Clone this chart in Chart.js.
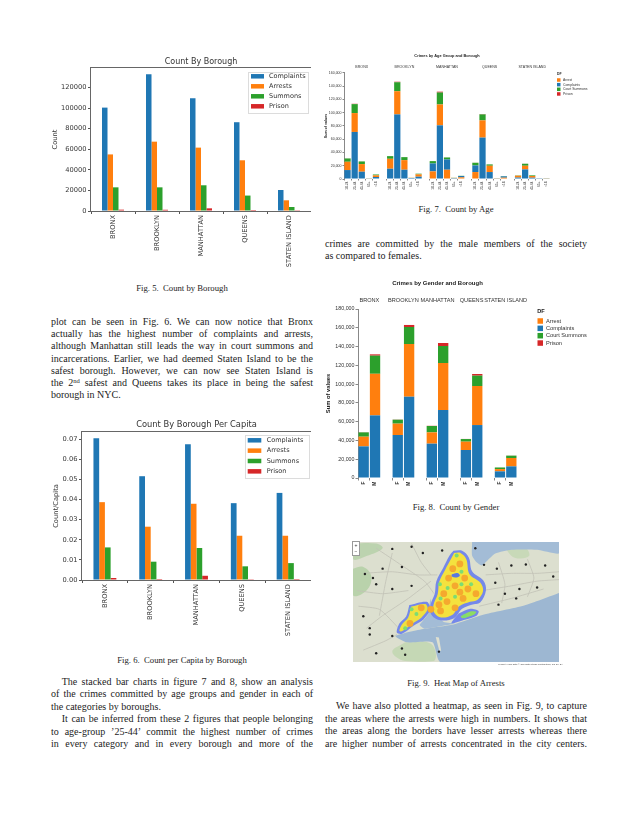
<!DOCTYPE html>
<html><head><meta charset="utf-8">
<script src="https://cdn.jsdelivr.net/npm/chart.js@4"></script>
<style>
html,body{margin:0;padding:0;background:#fff}
#page{position:relative;width:638px;height:826px;overflow:hidden;background:#fff;filter:blur(.35px)}
canvas{position:absolute;display:block}
.t{position:absolute;white-space:nowrap;font-family:"Liberation Serif",serif;color:#1c1c1c;line-height:12px;height:12px}
.j{text-align:justify;text-align-last:justify}
.c{text-align:center}
sup{font-size:6.5px;line-height:0;vertical-align:3.5px}
#c9{filter:blur(.55px)}
</style></head><body><div id="page"></div>
<script>
// ---------- Data ----------
const boroughs = ['BRONX','BROOKLYN','MANHATTAN','QUEENS','STATEN ISLAND'];
const seriesCount = ['Complaints','Arrests','Summons','Prison'];
const countTicks = [0,20000,40000,60000,80000,100000,120000];
const countComplaints = [100500,133000,109600,86300,20400];
const countArrests    = [55000,67400,61600,49300,10400];
const countSummons    = [23000,23000,25000,15000,3900];
const countPrison     = [1300,1200,2600,1000,200];
const capitaTicks = [0,.01,.02,.03,.04,.05,.06,.07];
const capitaComplaints = [.0705,.0516,.0675,.0382,.0433];
const capitaArrests    = [.0387,.0265,.0379,.0220,.0220];
const capitaSummons    = [.0162,.0091,.0159,.0068,.0084];
const capitaPrison     = [.0010,.0005,.0021,.0004,.0005];

const seriesDF = ['Arrest','Complaints','Court Summons','Prison'];
const ageGroups = ['18-24','25-44','45-64','65+','<18',''];
// age chart: per facet 5 bars + one empty slot. Arrest sometimes sits under Complaints.
const ageArrestBelow = [0,0,0,0,0,null, 0,0,0,0,0,null, 11500,0,14000,0,2500,null, 10500,0,0,0,2000,null, 0,0,0,0,0];
const ageComplaints  = [13500,71000,11000,1000,3000,null, 15500,97500,14000,1500,3500,null, 12000,81000,15500,1300,2000,null, 10000,62500,10500,1000,2000,null, 2200,14500,2000,300,500];
const ageArrestAbove = [12500,28500,11500,200,2500,null, 15000,35000,14500,300,3500,null, 0,31500,0,400,0,null, 0,26000,9500,300,0,null, 2800,5500,2500,100,300];
const ageSummons     = [5000,13500,4000,100,1300,null, 4000,13500,4500,100,1000,null, 3500,18000,3000,200,300,null, 4000,9000,2000,100,500,null, 500,3000,1000,0,100];
const agePrison      = [100,500,100,0,50,null, 100,800,100,0,50,null, 100,1300,100,0,0,null, 100,500,100,0,0,null, 0,100,0,0,0];

const genders = ['F','M',''];
const genderComplaints = [33700,66700,null, 45800,86600,null, 36600,72400,null, 29800,56400,null, 7100,12400];
const genderArrest     = [10300,44300,null, 12100,56100,null, 12000,50100,null, 8900,41600,null, 2400,8900];
const genderSummons    = [4600,19300,null, 4200,18100,null, 6800,18100,null, 2800,11000,null, 1700,2500];
const genderPrison     = [200,1400,null, 200,2200,null, 200,3200,null, 100,1800,null, 50,100];

// heat map (picture coordinates of the map image, x 28-668, y 25-408)
const mapLand = [[28,25],[668,25],[668,408],[28,408],[28,25]];
const mapSound = [[398,25],[668,25],[668,62],[600,50],[520,50],[470,62],[445,85],[428,100],[412,90],[398,68],[398,25]];
const mapHarbor = [[268,205],[280,255],[310,280],[345,285],[250,302],[235,290],[262,255],[268,205]];
const mapOcean = [[668,188],[560,228],[430,258],[340,288],[250,302],[160,325],[195,345],[275,345],[300,408],[668,408],[668,188]];
const mapHook = [[285,328],[295,330],[302,372],[296,372],[285,328]];
const mapGreenA = [[28,110],[60,105],[85,135],[70,180],[28,195],[28,110]];
const mapGreenB = [[28,30],[100,30],[120,45],[70,70],[28,80],[28,30]];
const mapGreenC = [[500,45],[560,40],[575,70],[530,75],[500,45]];
const mapGreenD = [[190,345],[270,350],[280,405],[190,405],[150,375],[190,345]];
const mapRoads = [
 [[60,125],[150,120],[230,130],[290,130]],
 [[70,300],[120,260],[200,205],[270,150]],
 [[100,45],[180,100],[250,150],[280,190]],
 [[210,30],[240,90],[270,130]],
 [[440,130],[520,125],[600,125],[668,120]],
 [[430,180],[520,165],[600,150],[668,145]],
 [[420,230],[520,205],[620,175]],
 [[45,230],[110,240],[170,300]],
 [[60,370],[130,340],[165,320]],
 [[40,180],[120,190],[200,180]],
 [[150,60],[130,150],[110,260]],
 [[480,90],[500,160],[490,220]],
 [[570,80],[590,140],[570,200]]
];
const mapTowns = [[65,127],[100,160],[150,47],[210,40],[245,60],[305,52],[408,45],[435,98],[475,110],[520,100],[565,97],[625,100],[650,135],[470,155],[500,190],[545,175],[600,170],[480,225],[535,205],[180,105],[210,165],[150,175],[90,140],[120,110],[60,262],[80,300],[100,380],[180,365],[190,385],[295,375],[150,325],[80,320]];
const heatHalo1 = [[340,53],[367,53],[388,75],[398,118],[433,148],[441,180],[423,218],[397,225],[367,238],[342,268],[300,275],[272,258],[269,225],[282,190],[287,150],[308,108],[328,68],[340,53]];
const heatHalo2 = [[203,226],[257,216],[268,240],[247,272],[216,292],[180,318],[164,314],[172,285],[193,263],[203,226]];
const heatHalo3 = [[356,253],[392,238],[418,245],[412,260],[372,274],[334,284],[356,253]];
const heatInner1 = [[342,60],[362,60],[380,80],[390,128],[424,155],[432,182],[414,210],[392,216],[358,230],[336,258],[302,266],[281,252],[278,226],[291,192],[296,152],[314,114],[334,76],[342,60]];
const heatInner2 = [[209,231],[253,223],[260,240],[241,266],[212,286],[180,310],[172,308],[180,288],[199,267],[209,231]];
const heatInner3 = [[362,262],[392,247],[411,248],[405,256],[368,268],[362,262]];
const heatHole = [[335,128],[352,124],[360,132],[350,138],[335,135],[335,128]];
const heatGreenSpots = [[350,68],[322,172],[298,160],[365,120],[365,160],[395,160],[345,200],[225,255],[210,240],[375,262],[190,300],[300,205]];
const heatOrangeSpots = [[360,95],[338,110],[325,140],[345,165],[385,175],[410,190],[370,205],[320,215],[300,245],[345,235],[310,190],[240,235],[205,285],[270,240],[295,225],[360,185],[375,140]];

// ---------- Text ----------
const captions = [
 ['Fig. 5.  Count by Borough',182,288.3,8.7],
 ['Fig. 6.  Count per Capita by Borough',182,659.7,8.7],
 ['Fig. 7.  Count by Age',456,209,8.7],
 ['Fig. 8.  Count by Gender',456,506.5,8.7],
 ['Fig. 9.  Heat Map of Arrests',456,682.7,8.7]
];
// [html, left, right, centre-y, justified]
const bodyLines = [
 ['plot can be seen in Fig. 6. We can now notice that Bronx',51,313,322.3,1],
 ['actually has the highest number of complaints and arrests,',51,313,334.3,1],
 ['although Manhattan still leads the way in court summons and',51,313,346.4,1],
 ['incarcerations. Earlier, we had deemed Staten Island to be the',51,313,358.5,1],
 ['safest borough. However, we can now see Staten Island is',51,313,370.6,1],
 ['the 2<sup>nd</sup> safest and Queens takes its place in being the safest',51,313,382.7,1],
 ['borough in NYC.',51,313,395,0],
 ['The stacked bar charts in figure 7 and 8, show an analysis',61.7,313,682,1],
 ['of the crimes committed by age groups and gender in each of',51,313,694.3,1],
 ['the categories by boroughs.',51,313,706.7,0],
 ['It can be inferred from these 2 figures that people belonging',61.7,313,719,1],
 ['to age-group \u201925-44\u2019 commit the highest number of crimes',51,313,731.5,1],
 ['in every category and in every borough and more of the',51,313,744,1],
 ['crimes are committed by the male members of the society',325,587,243.7,1],
 ['as compared to females.',325,587,256,0],
 ['We have also plotted a heatmap, as seen in Fig. 9, to capture',336,587,706,1],
 ['the areas where the arrests were high in numbers. It shows that',325,587,718.7,1],
 ['the areas along the borders have lesser arrests whereas there',325,587,731.3,1],
 ['are higher number of arrests concentrated in the city centers.',325,587,744,1]
];

const page = document.getElementById('page');
const BODY_FONT = 10;
bodyLines.forEach(([h,l,r,y,j])=>{
  const d=document.createElement('div');
  d.className='t'+(j?' j':'');
  d.style.cssText+=`left:${l}px;width:${r-l}px;top:${y-6}px;font-size:${BODY_FONT}px`;
  d.innerHTML=h; page.appendChild(d);
});
captions.forEach(([h,x,y,s])=>{
  const d=document.createElement('div');
  d.className='t c';
  d.style.cssText+=`left:${x-120}px;width:240px;top:${y-6}px;font-size:${s}px;white-space:pre`;
  d.textContent=h; page.appendChild(d);
});

// ---------- Plugins ----------
const frame={id:'frame',afterDatasetsDraw(ch,_,o){ if(!o.color)return;
  const a=ch.chartArea,c=ch.ctx;c.save();c.strokeStyle=o.color;c.lineWidth=1;
  c.strokeRect(Math.round(a.left)-.5,Math.round(a.top)-.5,Math.round(a.width)+1,Math.round(a.height)+1);c.restore();}};
const floatLegend={id:'floatLegend',afterDraw(ch,_,o){ if(!o.names)return;
  const c=ch.ctx;c.save();c.translate(-o.ox,-o.oy);c.textBaseline='middle';c.textAlign='left';
  if(o.box){c.fillStyle='rgba(255,255,255,.85)';c.strokeStyle='#dcdcdc';c.lineWidth=1;
    c.fillRect(o.box[0],o.box[1],o.box[2],o.box[3]);c.strokeRect(o.box[0]+.5,o.box[1]+.5,o.box[2],o.box[3]);}
  if(o.title){c.font=`bold ${o.size}px ${o.family}`;c.fillStyle='#222';c.fillText(o.title,o.titleX,o.titleY);}
  o.names.forEach((n,i)=>{const y=o.y+i*o.step;
    c.fillStyle=o.colors[i];c.fillRect(o.sx,y-o.sh/2,o.sw,o.sh);
    c.fillStyle='#333';c.font=`${o.size}px ${o.family}`;c.fillText(n,o.tx,y);});
  c.restore();}};
const facetLabels={id:'facetLabels',afterDraw(ch,_,o){ if(!o.names)return;
  const c=ch.ctx,xs=ch.scales.x;c.save();c.textAlign='center';c.textBaseline='middle';c.fillStyle='#333';
  c.font=`${o.size}px ${o.family}`;
  o.names.forEach((n,i)=>c.fillText(n,xs.getPixelForValue(i*o.slots+o.mid),ch.chartArea.top-o.up));c.restore();}};

function addCanvas(id,l,t,w,h){const cv=document.createElement('canvas');cv.id=id;cv.width=w;cv.height=h;
  cv.style.cssText=`left:${l}px;top:${t}px;width:${w}px;height:${h}px`;page.appendChild(cv);return cv;}

const BLUE='#1f77b4',ORANGE='#ff7f0e',GREEN='#2ca02c',RED='#d62728';
const DJ='"DejaVu Sans"',LS='"Liberation Sans"';

function groupedChart(id,box,yw,xh,titleText,tf,tt,tb,yTitle,yTitleP,yMax,tickVals,fmt,vals,leg,tickFont){
  const cv=addCanvas(id,...box);
  new Chart(cv,{type:'bar',
    data:{labels:boroughs,datasets:seriesCount.map((n,i)=>({label:n,data:vals[i],backgroundColor:[BLUE,ORANGE,GREEN,RED][i],
      categoryPercentage:.5,barPercentage:1,borderWidth:0}))},
    options:{responsive:false,animation:false,devicePixelRatio:1,
      layout:{padding:0},
      plugins:{legend:{display:false},tooltip:{enabled:false},
        title:{display:true,text:titleText,fullSize:false,font:{family:DJ,size:tf,weight:'normal',lineHeight:1.2},color:'#333',padding:{top:tt,bottom:tb}},
        frame:{color:'#666'},
        floatLegend:Object.assign({names:seriesCount,colors:[BLUE,ORANGE,GREEN,RED],family:DJ,ox:box[0],oy:box[1]},leg)},
      scales:{
        x:{grid:{drawOnChartArea:false,tickLength:3,color:'#555'},border:{display:false},
           ticks:{font:{family:DJ,size:tickFont},color:'#333',minRotation:90,maxRotation:90,autoSkip:false,padding:1},
           afterFit:s=>{s.height=xh}},
        y:{min:0,max:yMax,grid:{drawOnChartArea:false,tickLength:3,color:'#555'},border:{display:false},
           title:{display:true,text:yTitle,font:{family:DJ,size:tickFont,lineHeight:1.2},color:'#333',padding:{top:yTitleP,bottom:0}},
           afterBuildTicks:s=>{s.ticks=tickVals.map(value=>({value}))},
           ticks:{font:{family:DJ,size:tickFont},color:'#333',padding:1.5,callback:fmt},
           afterFit:s=>{s.width=yw}}
      }},
    plugins:[frame,floatLegend]});
}

function stackedChart(id,box,padRight,yw,xh,labels,datasets,titleText,tf,tt,tb,sizes,fac,leg,barPct){
  const cv=addCanvas(id,...box);
  new Chart(cv,{type:'bar',
    data:{labels,datasets:datasets.map(d=>({label:d[0],data:d[1],backgroundColor:d[2],stack:'s',barPercentage:barPct,categoryPercentage:1,borderWidth:0}))},
    options:{responsive:false,animation:false,devicePixelRatio:1,
      layout:{padding:{right:padRight}},
      plugins:{legend:{display:false},tooltip:{enabled:false},
        title:{display:true,text:titleText,fullSize:false,font:{family:LS,size:tf,weight:'bold',lineHeight:1.2},color:'#222',padding:{top:tt,bottom:tb}},
        frame:{},
        facetLabels:Object.assign({names:boroughs,family:LS},fac),
        floatLegend:Object.assign({names:seriesDF,colors:[ORANGE,BLUE,GREEN,RED],family:LS,title:'DF',ox:box[0],oy:box[1]},leg)},
      scales:{
        x:{stacked:true,grid:{drawOnChartArea:false,tickLength:sizes.tl,tickColor:c=>c.tick&&c.tick.label?'#888':'rgba(0,0,0,0)'},border:{display:false},
           ticks:{font:{family:LS,size:sizes.x,weight:sizes.xb},color:'#333',minRotation:90,maxRotation:90,autoSkip:false,padding:1},
           afterFit:s=>{s.height=xh}},
        y:{stacked:true,min:0,max:sizes.max,grid:{drawOnChartArea:false,tickLength:sizes.tl,color:'#888'},border:{color:'#888'},
           title:{display:true,text:'Sum of values',font:{family:LS,size:sizes.t,weight:'bold',lineHeight:1.2},color:'#222',padding:{top:sizes.tp,bottom:0}},
           ticks:{stepSize:20000,font:{family:LS,size:sizes.y},color:'#333',padding:1,callback:v=>v.toLocaleString('en-US')},
           afterFit:s=>{s.width=yw}}
      }},
    plugins:[frame,facetLabels,floatLegend]});
}

// Fig 5
groupedChart('c5',[45,52,266,229],46,70,'Count By Borough',8,5,1.4,'Count',6,139000,countTicks,v=>String(v),
  [countComplaints,countArrests,countSummons,countPrison],
  {box:[248,72,60,41],y:76.3,step:10,sx:251,sw:13,sh:4.5,tx:269,size:6.5},6.7);
// Fig 6
groupedChart('c6',[40,416,271,236],42,72,'Count By Borough Per Capita',8.3,4,2,'Count/Capita',11.8,.0736,capitaTicks,v=>v.toFixed(2),
  [capitaComplaints,capitaArrests,capitaSummons,capitaPrison],
  {box:[245,435,64,43],y:440.3,step:10.35,sx:247.7,sw:13.6,sh:4.5,tx:266.7,size:6.5},6.7);

// Fig 7
const ageLabels=[];for(let i=0;i<29;i++)ageLabels.push(ageGroups[i%6]);
stackedChart('c7',[322,48,268,145],40,22,14,ageLabels,
  [['Arrest',ageArrestBelow,ORANGE],['Complaints',ageComplaints,BLUE],['Arrest',ageArrestAbove,ORANGE],['Court Summons',ageSummons,GREEN],['Prison',agePrison,RED]],
  'Crimes by Age Group and Borough',3.9,5.6,14.7,{max:160000,x:3.2,y:3.5,t:3.6,tp:2,tl:1.5,xb:'normal'},
  {slots:6,mid:2,up:6,size:3.6},
  {titleX:557,titleY:74,y:80,step:4.65,sx:557,sw:3.5,sh:3.5,tx:563,size:3.4},.88);

// Fig 8
const genderLabels=[];for(let i=0;i<14;i++)genderLabels.push(genders[i%3]);
stackedChart('c8',[322,276,268,216],73,36,14,genderLabels,
  [['Complaints',genderComplaints,BLUE],['Arrest',genderArrest,ORANGE],['Court Summons',genderSummons,GREEN],['Prison',genderPrison,RED]],
  'Crimes by Gender and Borough',6,3.7,22.1,{max:180000,x:5,y:5.3,t:5.8,tp:3,tl:2.5,xb:'bold'},
  {slots:3,mid:.5,up:8.7,size:5.6},
  {titleX:537.3,titleY:311.7,y:321,step:7.35,sx:537.5,sw:5.5,sh:5.5,tx:546,size:5.65},.91);

// Fig 9: map
const toXY=a=>a.map(([x,y])=>({x,y}));
const poly=(a,color,tension=0)=>({data:toXY(a),fill:'shape',backgroundColor:color,borderWidth:0,borderColor:color,pointRadius:0,tension});
const stroke=(a,color,w)=>({data:toXY(a),fill:false,borderColor:color,borderWidth:w,pointRadius:0,tension:.2});
const layers=[
  poly(mapLand,'#dcdfcf'),
  poly(mapGreenA,'#b9d2ab',.4),poly(mapGreenB,'#bcd3af',.4),poly(mapGreenC,'#c8d9b8',.4),poly(mapGreenD,'#c5d8b5',.4),
  poly(mapSound,'#a3bcd6',.2),poly(mapOcean,'#9db7d2',.2),poly(mapHarbor,'#a3bcd6',.1),poly(mapHook,'#dfe0d0'),
  ...mapRoads.map(r=>stroke(r,'#c2c1b6',.8)),
  {data:toXY(mapTowns),showLine:false,pointRadius:1.2,pointBackgroundColor:'#222',pointBorderWidth:0},
  poly(heatHalo1,'#7488ea',.35),poly(heatHalo2,'#7488ea',.3),poly(heatHalo3,'#7488ea',.3),
  poly(heatInner1,'#f4e23e',.35),poly(heatInner2,'#efe040',.3),poly(heatInner3,'#8fdc62',.3),
  {data:toXY(heatOrangeSpots),showLine:false,pointRadius:3.4,pointBackgroundColor:'#f5a92e',pointBorderWidth:0},
  {data:toXY(heatGreenSpots),showLine:false,pointRadius:2,pointBackgroundColor:'#7cdc74',pointBorderWidth:0},
  poly(heatHole,'#5a78e0',.4)
];
layers.forEach((d,i)=>{d.order=layers.length-i;});
new Chart(addCanvas('c9',349,538,214,128),{type:'line',data:{datasets:layers},
  options:{responsive:false,animation:false,devicePixelRatio:1,layout:{padding:0},
    plugins:{legend:{display:false},tooltip:{enabled:false}},
    scales:{x:{type:'linear',min:28,max:668,display:false},y:{min:25,max:408,reverse:true,display:false}}}});
// zoom control and attribution
const zoomBox=document.createElement('div');
zoomBox.style.cssText='position:absolute;left:352px;top:541px;width:6px;height:13px;background:#fff;border:.5px solid #999;font:5px/6px "Liberation Sans";text-align:center;color:#333;filter:blur(.3px)';
zoomBox.innerHTML='+<br>\u2212';page.appendChild(zoomBox);
const attrib=document.createElement('div');
attrib.style.cssText='position:absolute;left:452px;top:663px;width:111px;height:3px;background:rgba(255,255,255,.55);font:2.4px/3px "Liberation Sans";color:#444;white-space:nowrap;overflow:hidden;text-align:right';
attrib.textContent='Leaflet | Map data \u00a9 OpenStreetMap contributors, CC-BY-SA';page.appendChild(attrib);
</script></body></html>
